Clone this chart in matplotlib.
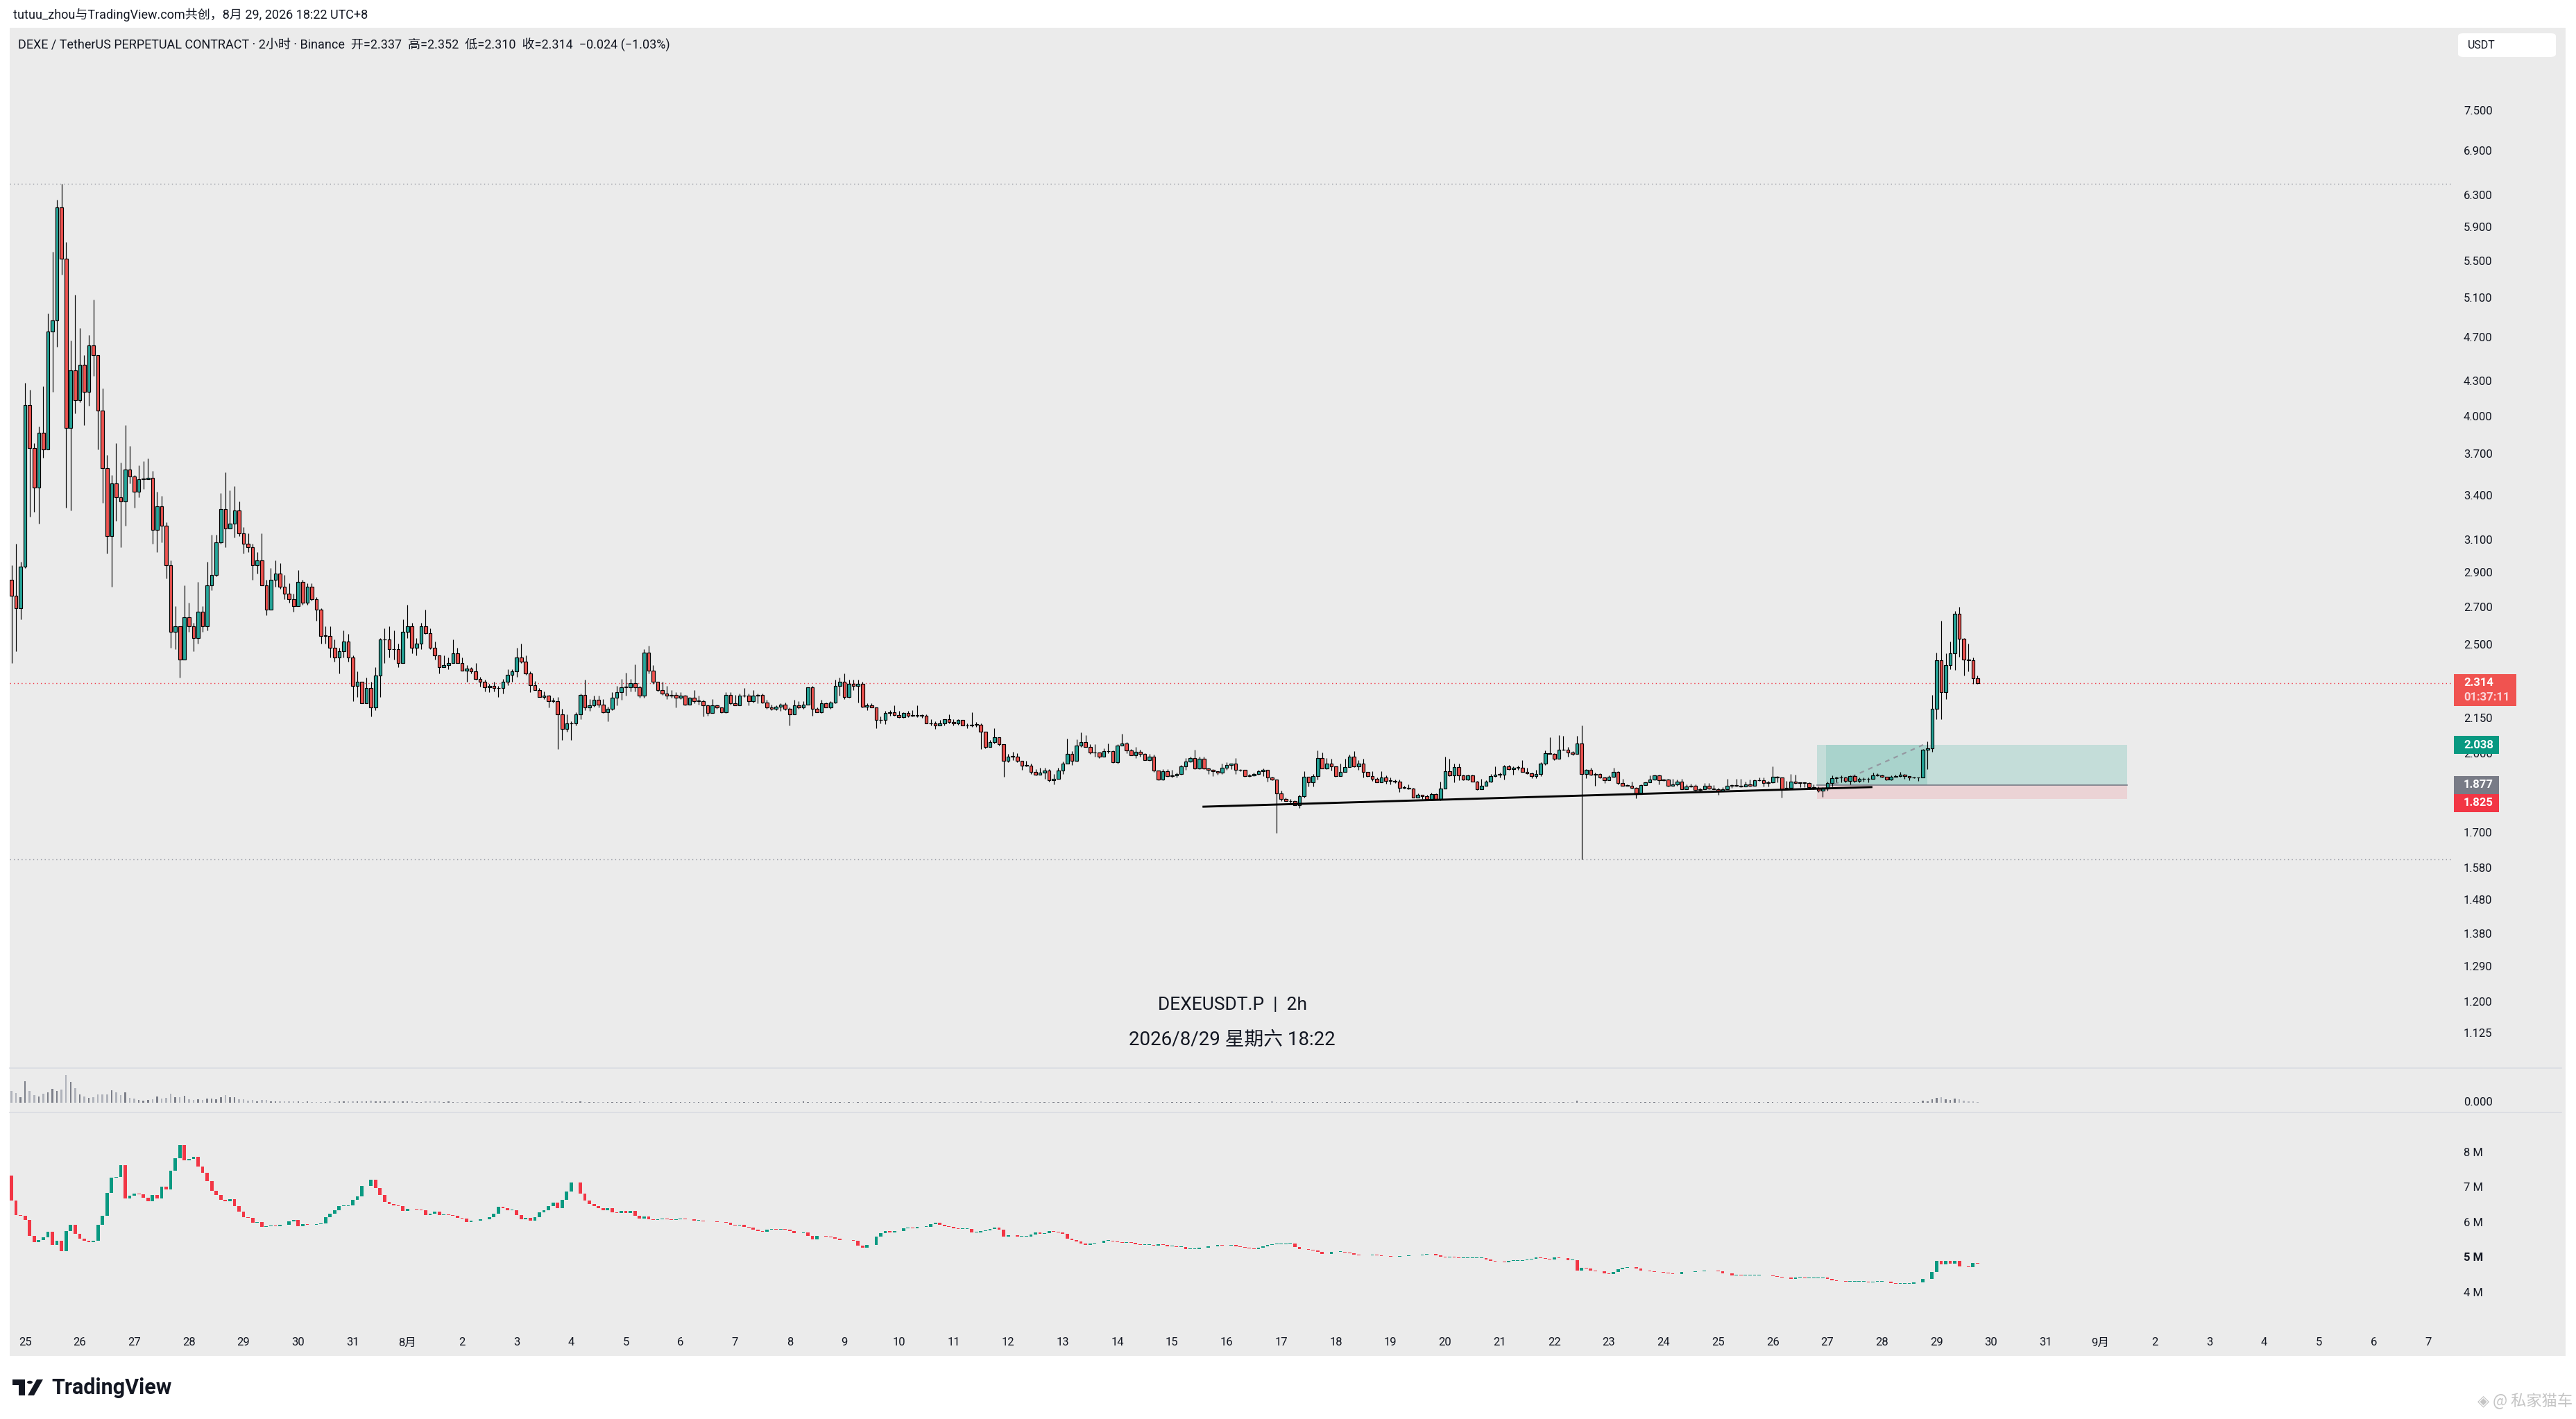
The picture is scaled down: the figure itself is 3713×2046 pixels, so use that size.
import numpy as np
import pandas as pd
import matplotlib
matplotlib.use("Agg")
import matplotlib.pyplot as plt
from matplotlib.patches import Rectangle, FancyBboxPatch, Circle, Polygon
from matplotlib.lines import Line2D

# ------------------------------------------------------------------ data
first_open = 2.86
close = [
    2.77, 2.70, 2.94, 4.10, 3.75, 3.46, 3.87, 3.74, 4.77, 4.88,
    6.15, 5.54, 3.91, 4.40, 4.14, 4.45, 4.21, 4.63, 4.54, 4.05,
    3.60, 3.13, 3.49, 3.39, 3.36, 3.59, 3.54, 3.43, 3.52, 3.52,
    3.53, 3.17, 3.33, 3.20, 2.95, 2.57, 2.60, 2.43, 2.65, 2.60,
    2.54, 2.68, 2.60, 2.83, 2.89, 3.09, 3.31, 3.18, 3.21, 3.30,
    3.15, 3.08, 3.06, 2.95, 2.98, 2.83, 2.69, 2.86, 2.90, 2.82,
    2.78, 2.75, 2.71, 2.85, 2.73, 2.82, 2.75, 2.69, 2.55, 2.55,
    2.49, 2.44, 2.47, 2.52, 2.44, 2.30, 2.32, 2.22, 2.29, 2.20,
    2.35, 2.53, 2.53, 2.48, 2.48, 2.41, 2.57, 2.60, 2.49, 2.51, 2.60,
    2.565, 2.49, 2.45, 2.39, 2.40, 2.41, 2.46, 2.41, 2.375, 2.385,
    2.37, 2.335, 2.32, 2.295, 2.30, 2.29, 2.29, 2.32, 2.355, 2.37,
    2.44, 2.42, 2.36, 2.305, 2.28, 2.25, 2.255, 2.23, 2.23, 2.17,
    2.105, 2.13, 2.13, 2.17, 2.26, 2.20, 2.21, 2.235, 2.215, 2.18,
    2.195, 2.245, 2.27, 2.295, 2.295, 2.315, 2.295, 2.255, 2.465, 2.375,
    2.32, 2.28, 2.265, 2.255, 2.26, 2.245, 2.255, 2.215, 2.245, 2.23,
    2.23, 2.21, 2.175, 2.21, 2.20, 2.18, 2.26, 2.22, 2.21, 2.255,
    2.255, 2.23, 2.255, 2.26, 2.225, 2.20, 2.195, 2.205, 2.215, 2.195,
    2.17, 2.21, 2.20, 2.215, 2.295, 2.195, 2.18, 2.22, 2.20, 2.225, 2.30,
    2.32, 2.25, 2.31, 2.30, 2.31, 2.205,
    2.21, 2.20, 2.145, 2.145, 2.176, 2.18, 2.167, 2.157, 2.176, 2.165,
    2.168, 2.165, 2.165, 2.13, 2.13, 2.12, 2.13, 2.15, 2.135, 2.13,
    2.145, 2.12, 2.122, 2.125, 2.125, 2.095, 2.03, 2.05, 2.07, 2.04,
    1.972, 1.99, 1.99, 1.972, 1.953, 1.953, 1.927, 1.918, 1.925, 1.934,
    1.895, 1.90, 1.934, 1.96, 2.00, 1.972, 2.035, 2.05, 2.03, 2.006,
    2.006, 1.99, 2.012, 2.012, 1.967, 2.035, 2.045, 2.015, 1.995, 2.01,
    2.00, 1.975, 1.99, 1.934, 1.897, 1.93, 1.912, 1.915, 1.92, 1.95,
    1.97, 1.985, 1.942, 1.98, 1.942, 1.937, 1.932, 1.926, 1.944, 1.957,
    1.96, 1.937, 1.935, 1.912,
    1.915, 1.92, 1.93, 1.935, 1.905, 1.897, 1.845, 1.825, 1.815, 1.815,
    1.80, 1.835, 1.91, 1.888, 1.912, 1.984, 1.942, 1.96, 1.95, 1.912,
    1.927, 1.947, 1.99, 1.95, 1.96, 1.927, 1.912, 1.90, 1.888, 1.905,
    1.893, 1.893, 1.89, 1.866, 1.867, 1.863, 1.83, 1.84, 1.835, 1.825,
    1.843, 1.823, 1.863, 1.93, 1.915, 1.947, 1.915, 1.897, 1.915, 1.89,
    1.86, 1.874, 1.89, 1.912, 1.917, 1.918, 1.95, 1.94, 1.945, 1.945,
    1.927, 1.922, 1.912, 1.92, 1.96, 2.003, 2.00, 1.98, 2.017, 2.017,
    2.006, 2.00, 2.045, 1.92, 1.937, 1.917, 1.92, 1.907, 1.896, 1.908,
    1.927, 1.885, 1.874, 1.875, 1.867, 1.843, 1.877, 1.888, 1.897, 1.915, 1.896, 1.897,
    1.874, 1.88, 1.89, 1.86, 1.87, 1.875, 1.858, 1.86, 1.874, 1.863,
    1.86, 1.855, 1.86, 1.875, 1.875, 1.874, 1.872, 1.88, 1.875, 1.895,
    1.895, 1.885, 1.888, 1.91, 1.905, 1.86, 1.867, 1.89, 1.885, 1.885,
    1.885, 1.868, 1.863, 1.855, 1.862, 1.885, 1.903, 1.905, 1.907, 1.892,
    1.912, 1.892, 1.90, 1.90, 1.902, 1.915, 1.915, 1.91, 1.898, 1.91,
    1.912, 1.918, 1.912, 1.905, 1.905, 1.905, 2.018, 2.025, 2.195, 2.425,
    2.273, 2.40, 2.46, 2.67, 2.535, 2.43, 2.425, 2.337, 2.314,
]
high = [
    2.95, 3.08, 2.97, 4.29, 4.23, 3.79, 3.92, 4.26, 4.95, 5.62,
    6.25, 6.46, 5.73, 4.68, 5.14, 4.80, 4.54, 4.73, 5.09, 4.54,
    4.24, 3.70, 3.55, 3.79, 3.64, 3.93, 3.77, 3.55, 3.62, 3.65,
    3.67, 3.58, 3.43, 3.40, 3.22, 2.98, 2.71, 2.60, 2.83, 2.73,
    2.62, 2.85, 2.71, 2.97, 3.14, 3.14, 3.42, 3.57, 3.44, 3.47,
    3.36, 3.19, 3.15, 3.08, 3.03, 3.15, 2.86, 2.93, 2.98, 2.96,
    2.89, 2.84, 2.78, 2.92, 2.86, 2.84, 2.84, 2.76, 2.70, 2.60,
    2.60, 2.53, 2.49, 2.58, 2.56, 2.45, 2.37, 2.32, 2.34, 2.32,
    2.39, 2.54, 2.59, 2.60, 2.58, 2.51, 2.64, 2.72, 2.62, 2.54, 2.62,
    2.69, 2.59, 2.52, 2.45, 2.45, 2.44, 2.53, 2.49, 2.44, 2.40,
    2.39, 2.41, 2.345, 2.33, 2.31, 2.32, 2.30, 2.335, 2.38, 2.38,
    2.49, 2.51, 2.45, 2.37, 2.325, 2.29, 2.275, 2.26, 2.245, 2.25,
    2.195, 2.17, 2.14, 2.18, 2.265, 2.33, 2.24, 2.255, 2.255, 2.24,
    2.205, 2.27, 2.30, 2.335, 2.365, 2.335, 2.405, 2.30, 2.48, 2.50,
    2.40, 2.32, 2.32, 2.30, 2.28, 2.27, 2.27, 2.26, 2.25, 2.28,
    2.255, 2.235, 2.215, 2.24, 2.215, 2.20, 2.27, 2.27, 2.26, 2.265,
    2.29, 2.265, 2.28, 2.265, 2.265, 2.235, 2.215, 2.21, 2.22, 2.225,
    2.20, 2.235, 2.23, 2.23, 2.295, 2.30, 2.20, 2.235, 2.225, 2.23, 2.33,
    2.34, 2.36, 2.33, 2.33, 2.33, 2.32,
    2.22, 2.22, 2.20, 2.16, 2.185, 2.19, 2.21, 2.185, 2.18, 2.185,
    2.19, 2.21, 2.17, 2.17, 2.15, 2.14, 2.145, 2.15, 2.17, 2.15,
    2.15, 2.145, 2.13, 2.18, 2.135, 2.13, 2.095, 2.06, 2.11, 2.07,
    2.04, 2.00, 2.01, 2.005, 1.972, 1.972, 1.96, 1.94, 1.945, 1.945,
    1.94, 1.92, 1.945, 1.97, 2.065, 2.012, 2.062, 2.09, 2.08, 2.04,
    2.04, 2.006, 2.025, 2.045, 2.015, 2.04, 2.085, 2.05, 2.02, 2.03,
    2.017, 2.003, 2.00, 1.997, 1.934, 1.94, 1.94, 1.935, 1.925, 1.955,
    1.985, 1.99, 2.017, 1.99, 1.99, 1.945, 1.94, 1.932, 1.96, 1.967,
    1.96, 1.985, 1.94, 1.935,
    1.92, 1.925, 1.935, 1.942, 1.935, 1.908, 1.897, 1.855, 1.83, 1.825,
    1.818, 1.84, 1.93, 1.91, 1.92, 2.015, 2.006, 1.985, 1.982, 1.95,
    1.96, 1.98, 1.997, 2.012, 1.975, 1.98, 1.927, 1.93, 1.907, 1.93,
    1.915, 1.905, 1.897, 1.897, 1.873, 1.88, 1.866, 1.845, 1.84, 1.84,
    1.847, 1.845, 1.89, 1.99, 1.982, 1.96, 1.96, 1.917, 1.917, 1.917,
    1.892, 1.90, 1.895, 1.92, 1.95, 1.925, 1.955, 1.955, 1.95, 1.952,
    1.975, 1.945, 1.925, 1.935, 1.967, 2.015, 2.07, 2.003, 2.08, 2.075,
    2.03, 2.012, 2.075, 2.12, 1.94, 1.945, 1.925, 1.922, 1.908, 1.915,
    1.945, 1.93, 1.902, 1.88, 1.89, 1.868, 1.88, 1.89, 1.915, 1.917, 1.917, 1.902,
    1.90, 1.90, 1.897, 1.90, 1.88, 1.883, 1.878, 1.866, 1.884, 1.884,
    1.876, 1.866, 1.868, 1.90, 1.88, 1.90, 1.90, 1.89, 1.897, 1.897,
    1.905, 1.905, 1.893, 1.95, 1.913, 1.905, 1.892, 1.92, 1.918, 1.888,
    1.888, 1.886, 1.88, 1.87, 1.868, 1.89, 1.915, 1.908, 1.915, 1.908,
    1.915, 1.916, 1.905, 1.907, 1.907, 1.924, 1.922, 1.917, 1.91, 1.915,
    1.917, 1.928, 1.92, 1.91, 1.91, 1.905, 2.022, 2.053, 2.26, 2.464,
    2.63, 2.46, 2.52, 2.685, 2.705, 2.54, 2.51, 2.44, 2.352,
]
low = [
    2.41, 2.47, 2.64, 2.93, 3.26, 3.29, 3.21, 3.68, 3.74, 4.21,
    4.62, 5.36, 3.32, 3.30, 4.03, 4.12, 3.93, 4.09, 4.35, 3.74,
    3.35, 3.02, 2.82, 3.23, 3.06, 3.20, 3.49, 3.32, 3.39, 3.45,
    3.52, 3.08, 3.03, 3.09, 2.87, 2.49, 2.48, 2.34, 2.43, 2.57,
    2.47, 2.51, 2.57, 2.58, 2.80, 2.88, 3.08, 3.06, 3.18, 3.12,
    3.13, 3.02, 3.03, 2.86, 2.90, 2.83, 2.66, 2.69, 2.82, 2.81,
    2.75, 2.73, 2.68, 2.71, 2.72, 2.72, 2.74, 2.63, 2.51, 2.51,
    2.44, 2.42, 2.36, 2.44, 2.42, 2.23, 2.25, 2.22, 2.22, 2.16,
    2.19, 2.25, 2.41, 2.44, 2.43, 2.39, 2.41, 2.54, 2.46, 2.45, 2.48,
    2.56, 2.48, 2.43, 2.36, 2.39, 2.38, 2.41, 2.41, 2.375, 2.32,
    2.36, 2.33, 2.297, 2.275, 2.27, 2.275, 2.25, 2.265, 2.305, 2.32,
    2.345, 2.41, 2.355, 2.27, 2.28, 2.25, 2.24, 2.20, 2.225, 2.02,
    2.06, 2.095, 2.06, 2.12, 2.15, 2.19, 2.185, 2.205, 2.20, 2.175,
    2.14, 2.19, 2.21, 2.235, 2.255, 2.275, 2.275, 2.245, 2.245, 2.36,
    2.31, 2.275, 2.26, 2.24, 2.245, 2.20, 2.24, 2.21, 2.213, 2.22,
    2.215, 2.16, 2.165, 2.175, 2.195, 2.175, 2.175, 2.215, 2.21, 2.21,
    2.25, 2.21, 2.225, 2.22, 2.22, 2.195, 2.19, 2.19, 2.185, 2.19,
    2.12, 2.17, 2.195, 2.195, 2.215, 2.165, 2.18, 2.175, 2.20, 2.195, 2.22,
    2.255, 2.24, 2.245, 2.28, 2.225, 2.20,
    2.19, 2.20, 2.11, 2.13, 2.126, 2.163, 2.163, 2.155, 2.155, 2.157,
    2.16, 2.157, 2.155, 2.13, 2.12, 2.105, 2.12, 2.12, 2.13, 2.12,
    2.125, 2.12, 2.11, 2.115, 2.115, 2.02, 2.025, 2.03, 2.045, 2.035,
    1.91, 1.966, 1.975, 1.967, 1.936, 1.95, 1.92, 1.915, 1.918, 1.90,
    1.89, 1.88, 1.90, 1.92, 1.96, 1.955, 1.97, 2.03, 2.03, 2.00,
    1.99, 1.984, 1.99, 2.003, 1.965, 1.96, 2.035, 2.005, 1.995, 1.985,
    1.99, 1.975, 1.972, 1.928, 1.895, 1.895, 1.908, 1.906, 1.906, 1.917,
    1.937, 1.967, 1.94, 1.94, 1.94, 1.92, 1.912, 1.918, 1.92, 1.937,
    1.94, 1.92, 1.93, 1.91,
    1.91, 1.912, 1.916, 1.912, 1.89, 1.895, 1.70, 1.815, 1.815, 1.808,
    1.80, 1.79, 1.83, 1.872, 1.872, 1.897, 1.942, 1.94, 1.934, 1.91,
    1.912, 1.927, 1.95, 1.947, 1.937, 1.905, 1.91, 1.893, 1.887, 1.887,
    1.883, 1.88, 1.885, 1.85, 1.862, 1.86, 1.828, 1.829, 1.823, 1.823,
    1.823, 1.82, 1.818, 1.863, 1.912, 1.888, 1.895, 1.896, 1.895, 1.89,
    1.857, 1.86, 1.874, 1.887, 1.91, 1.907, 1.897, 1.937, 1.918, 1.937,
    1.927, 1.92, 1.903, 1.903, 1.912, 1.955, 2.00, 1.975, 1.98, 2.014,
    1.99, 1.996, 2.003, 1.61, 1.903, 1.915, 1.873, 1.903, 1.885, 1.895,
    1.907, 1.878, 1.873, 1.873, 1.864, 1.826, 1.842, 1.877, 1.887, 1.896, 1.88, 1.892,
    1.872, 1.875, 1.875, 1.86, 1.86, 1.868, 1.85, 1.85, 1.86, 1.86,
    1.86, 1.84, 1.855, 1.86, 1.866, 1.87, 1.868, 1.87, 1.872, 1.874,
    1.892, 1.872, 1.872, 1.885, 1.888, 1.83, 1.86, 1.866, 1.882, 1.868,
    1.868, 1.864, 1.86, 1.85, 1.832, 1.856, 1.872, 1.888, 1.888, 1.888,
    1.878, 1.888, 1.888, 1.89, 1.888, 1.90, 1.912, 1.905, 1.896, 1.896,
    1.908, 1.91, 1.90, 1.895, 1.903, 1.893, 1.905, 1.94, 2.01, 2.15,
    2.15, 2.24, 2.38, 2.377, 2.444, 2.35, 2.37, 2.31, 2.310,
]
volume = [
    50, 41, 23, 92, 50, 32, 26, 38, 44, 59,
    50, 56, 119, 89, 62, 35, 26, 20, 23, 35,
    35, 35, 53, 44, 32, 44, 20, 17, 11, 8,
    11, 14, 26, 17, 20, 38, 23, 23, 29, 14,
    11, 14, 11, 17, 17, 14, 23, 32, 23, 23,
    14, 14, 8, 11, 5, 11, 11, 6,
    6, 6, 5, 6, 5, 6, 4, 7, 3, 3, 3, 4,
    6, 4, 6, 5, 6, 5, 7, 6, 5, 8,
    6, 7, 6, 7, 6, 6, 5, 5, 5, 3,
    3, 7, 5, 5, 5, 4, 5, 4, 4, 4,
    4, 3, 4, 4, 3, 4, 4, 4, 4, 4,
    3, 4, 4, 4, 4, 4, 4, 4, 4, 4, 3,
    5, 4, 3, 4, 5, 4, 3, 3, 3, 4, 3, 4,
    3, 3, 3, 4, 3, 6, 4, 3, 3, 3, 3, 3,
    3, 3, 3, 3, 3, 3, 3, 3, 3, 3, 3, 3,
    4, 3, 3, 3, 3, 3, 3, 3, 3, 3, 3, 3,
    3, 4, 3, 3, 3, 5, 4, 3, 3, 3, 3, 4,
    3, 3, 3, 3, 3, 4, 3, 3, 4, 3, 3, 3,
    3, 3, 3, 3, 3, 3, 3, 3, 3, 3, 3, 3,
    3, 3, 3, 3, 3, 3, 3, 4, 5, 3, 3, 3,
    5, 3, 3, 3, 3, 3, 3, 3, 3, 3, 4, 3,
    3, 3, 4, 3, 4, 3, 3, 3, 3, 3, 3, 3,
    3, 3, 3, 3, 3, 3, 3, 3, 3, 4, 3, 3,
    3, 3, 3, 3, 3, 3, 3, 3, 3, 3, 3, 3,
    3, 3, 3, 3, 3, 3, 3, 3, 3, 3, 3, 3,
    5, 3, 3, 3, 3, 3, 4, 3, 3, 4, 3, 3,
    3, 3, 3, 3, 3, 3, 3, 3, 3, 3, 3, 3,
    3, 3, 3, 3, 3, 3, 3, 3, 3, 3, 3, 3,
    4, 4, 3, 3, 3, 3, 3, 3, 3, 3, 3, 3,
    3, 3, 3, 3, 3, 3, 3, 3, 4, 4, 3, 3,
    3, 3, 3, 3, 3, 3, 4, 8, 3, 3, 3, 3,
    3, 3, 3, 3, 3, 3, 3, 3, 3, 3, 3, 3,
    3, 3, 3, 3, 3, 3, 3, 3, 3, 3, 3, 3,
    3, 3, 3, 3, 3, 3, 3, 3, 3, 3, 3, 3,
    3, 4, 3, 4, 3, 3, 3, 3, 3, 3, 3, 3,
    3, 3, 3, 3, 3, 3, 3, 3, 3, 3, 3, 3,
    3, 3, 3, 3, 3, 3, 3, 3, 3, 3, 3, 8,
    6, 14, 20, 24, 14, 11, 18, 15, 9, 7, 6, 4,
]
oi_first_open = 7.36
oi_close = [
    6.65, 6.22, 6.20, 6.09, 5.64, 5.45, 5.51, 5.59, 5.75, 5.38,
    5.49, 5.20, 5.77, 5.95, 5.69, 5.56, 5.50, 5.45, 5.49, 5.95,
    6.20, 6.86, 7.29, 7.32, 7.65, 6.70, 6.78, 6.85, 6.83, 6.73,
    6.63, 6.80, 6.71, 7.04, 6.97, 7.49, 7.85, 8.23, 7.79, 7.83,
    7.90, 7.61, 7.44, 7.20, 6.93, 6.80, 6.66, 6.62, 6.68, 6.48,
    6.32, 6.16, 6.15, 6.00, 6.02, 5.90, 5.91, 5.93, 5.92, 5.96,
    5.95, 6.05, 6.08, 5.92, 5.97, 5.96, 5.95, 5.98, 5.99, 6.17,
    6.27, 6.37, 6.49, 6.49, 6.51, 6.66, 6.76, 7.05, 7.06, 7.24,
    7.00, 6.81, 6.61, 6.55, 6.51, 6.48, 6.35, 6.40, 6.41, 6.39,
    6.37, 6.22, 6.27, 6.32, 6.23, 6.24, 6.23, 6.20, 6.15, 6.12,
    6.02, 6.07, 6.06, 6.10, 6.10, 6.17, 6.27, 6.47, 6.43, 6.37,
    6.37, 6.22, 6.10, 6.15, 6.07, 6.17, 6.30, 6.37, 6.49, 6.58,
    6.43, 6.66, 6.91, 7.16, 7.15, 6.85, 6.65, 6.55, 6.49, 6.43,
    6.37, 6.43, 6.30, 6.29, 6.35, 6.28, 6.35, 6.20, 6.12, 6.19,
    6.10, 6.08, 6.11, 6.12, 6.10, 6.08, 6.11, 6.12, 6.10, 6.10,
    6.07, 6.07, 6.05, 6.04, 6.04, 6.03, 6.02, 6.00, 5.95, 5.94,
    5.95, 5.90, 5.88, 5.81, 5.77, 5.76, 5.81, 5.84, 5.81, 5.83,
    5.82, 5.77, 5.71, 5.71, 5.74, 5.64, 5.54, 5.63, 5.63, 5.62,
    5.59, 5.56, 5.51, 5.51, 5.52, 5.49, 5.36, 5.30, 5.37, 5.38,
    5.61, 5.71, 5.77, 5.74, 5.77, 5.78, 5.85, 5.88, 5.85, 5.89,
    5.90, 5.90, 5.97, 6.00, 5.95, 5.92, 5.90, 5.86, 5.84, 5.84,
    5.84, 5.74, 5.74, 5.77, 5.80, 5.84, 5.87, 5.81, 5.62,
    5.66, 5.65, 5.62, 5.62, 5.62, 5.67, 5.73, 5.69, 5.72, 5.77,
    5.76, 5.74, 5.70, 5.56, 5.51, 5.48, 5.41, 5.38, 5.41, 5.43,
    5.44, 5.50, 5.50, 5.48, 5.45, 5.43, 5.45, 5.43, 5.39, 5.38,
    5.38, 5.38, 5.36, 5.39, 5.38, 5.34, 5.34, 5.32, 5.32, 5.26,
    5.26, 5.26, 5.29, 5.30, 5.33, 5.34, 5.38, 5.36, 5.35, 5.37,
    5.34, 5.31, 5.30, 5.28, 5.26, 5.29, 5.34, 5.38, 5.40, 5.40,
    5.40, 5.42, 5.42, 5.32, 5.25, 5.26, 5.24, 5.22, 5.17, 5.11,
    5.12, 5.17, 5.18, 5.18, 5.16, 5.13, 5.09, 5.07, 5.07, 5.07,
    5.09, 5.07, 5.05, 5.05, 5.04, 5.03, 5.05, 5.05, 5.07, 5.07,
    5.07, 5.09, 5.11, 5.11, 5.08, 5.03, 5.01, 5.03, 5.01, 5.00,
    5.00, 5.00, 5.00, 5.00, 5.00, 4.97, 4.93, 4.91, 4.90, 4.89, 4.93,
    4.93, 4.93, 4.95, 4.97, 4.98, 5.02, 5.00, 4.98, 4.97, 5.01,
    5.00, 4.99, 4.95, 4.95, 4.65, 4.72, 4.70, 4.65, 4.63, 4.62,
    4.57, 4.55, 4.60, 4.68, 4.72, 4.74, 4.74, 4.70, 4.65, 4.64,
    4.62, 4.61, 4.60, 4.58, 4.57, 4.55, 4.54, 4.60, 4.60, 4.60,
    4.62, 4.62, 4.64, 4.64, 4.64, 4.62, 4.57, 4.56, 4.50, 4.53,
    4.51, 4.51, 4.51, 4.51, 4.51, 4.50, 4.50, 4.48, 4.47, 4.44, 4.44,
    4.41, 4.45, 4.45, 4.43, 4.43, 4.43, 4.43, 4.45, 4.41, 4.37,
    4.35, 4.34, 4.33, 4.33, 4.33, 4.33, 4.33, 4.31, 4.33, 4.33, 4.33,
    4.32, 4.29, 4.27, 4.27, 4.27, 4.27, 4.30, 4.30, 4.41, 4.40,
    4.60, 4.92, 4.82, 4.92, 4.85, 4.92, 4.77, 4.76, 4.75, 4.86,
    4.85,
]
price_ticks = [7.5, 6.9, 6.3, 5.9, 5.5, 5.1, 4.7, 4.3, 4.0, 3.7, 3.4, 3.1,
               2.9, 2.7, 2.5, 2.15, 2.0, 1.7, 1.58, 1.48, 1.38, 1.29, 1.2, 1.125]
oi_ticks = [8, 7, 6, 5, 4]
first_bar_time = "2026-07-24 18:00"
date_first, date_last = "2026-07-25", "2026-09-07"
entry_price, target_price, stop_price = 1.877, 2.038, 1.825
position_bars = (396.7, 464.9)          # left / right edge of long-position tool
position_hit_bar = 421.0                # bar where target was reached
trend_bars = (261.7, 408.9)
trend_prices = (1.795, 1.869)
path_bars = (398.7, 420.6)
path_prices = (1.865, 2.043)

# ------------------------------------------------------------------ style
W, H = 3713, 2046
BG = "#ebebeb"
TXT = "#131722"
UP, DN = "#26a69a", "#ef5350"
OI_UP, OI_DN = "#089981", "#f23645"
plt.rcParams["font.family"] = ["Roboto", "Noto Sans CJK SC", "DejaVu Sans"]

fig = plt.figure(figsize=(W / 100, H / 100), dpi=100)
fig.patch.set_facecolor("white")


def fy(y):
    return 1 - y / H


def add_ax(x0, y0, x1, y1):
    a = fig.add_axes([x0 / W, 1 - y1 / H, (x1 - x0) / W, (y1 - y0) / H])
    a.set_axis_off()
    a.patch.set_alpha(0)
    return a


fig.add_artist(Rectangle((14 / W, fy(1955)), (3698 - 14) / W, (1955 - 40) / H,
                         transform=fig.transFigure, facecolor=BG,
                         edgecolor="none", zorder=0))

n = min(len(close), len(high), len(low))
c = np.array(close[:n])
h = np.array(high[:n])
l = np.array(low[:n])
o = np.concatenate([[first_open], c[:-1]])
k = np.arange(n)

XL = (-2.5 / 6.56, (3536 - 16.5) / 6.56)

# ---------------- price pane
ax = add_ax(14, 40, 3536, 1540)
ax.set_yscale("log")
ax.set_xlim(*XL)
ax.set_ylim(1.049, 8.90)

up = c >= o
cols = np.where(up, UP, DN)
ax.vlines(k, l, h, color="black", lw=0.85, zorder=3)
body_lo = np.minimum(o, c)
body_h = np.maximum(np.abs(c - o), 0.0015)
ax.bar(k, body_h, bottom=body_lo, width=0.7, color=cols, edgecolor="black",
       linewidth=0.85, zorder=4)

dot = (0, (1, 3))
ax.axhline(h.max(), color="#9598a1", lw=1, ls=dot, zorder=2)
ax.axhline(l.min(), color="#9598a1", lw=1, ls=dot, zorder=2)
ax.axhline(c[-1], color="#f23645", lw=1, ls=dot, zorder=2)

# long position tool
x0p, x1p = position_bars
ax.add_patch(Rectangle((x0p, entry_price), x1p - x0p, target_price - entry_price,
                       facecolor=(8 / 255, 153 / 255, 129 / 255, 0.17),
                       edgecolor="none", zorder=1))
ax.add_patch(Rectangle((x0p + 2, entry_price), position_hit_bar - x0p - 2,
                       target_price - entry_price,
                       facecolor=(8 / 255, 153 / 255, 129 / 255, 0.14),
                       edgecolor="none", zorder=1))
ax.add_patch(Rectangle((x0p, stop_price), x1p - x0p, entry_price - stop_price,
                       facecolor=(242 / 255, 54 / 255, 69 / 255, 0.13),
                       edgecolor="none", zorder=1))
ax.plot([x0p, x1p], [entry_price, entry_price], color="#787b86", lw=1.2, zorder=1.5)
ax.plot(path_bars, path_prices, color="#9598a1", lw=1.6, ls=(0, (3, 3)), zorder=2)
ax.plot(trend_bars, trend_prices, color="black", lw=2.1, zorder=5,
        solid_capstyle="butt")

# ---------------- volume pane
axv = add_ax(14, 1540, 3536, 1604)
axv.set_xlim(*XL)
axv.set_ylim(-42, 150)
vol = np.array(volume[:n])
axv.bar(k[:len(vol)], vol, width=0.38,
        color=np.where(up[:len(vol)], "#7c7f89", "#b0b3bb"), zorder=2)

# ---------------- open-interest pane
axo = add_ax(14, 1604, 3536, 1955)
axo.set_xlim(*XL)
axo.set_ylim(2.208, 9.158)
oc = np.array(oi_close[:n])
oo = np.concatenate([[oi_first_open], oc[:-1]])
oup = oc >= oo
axo.bar(k[:len(oc)], np.maximum(np.abs(oc - oo), 0.01), bottom=np.minimum(oo, oc),
        width=0.72, color=np.where(oup, OI_UP, OI_DN), edgecolor="none", zorder=2)

# separators
for ys in (1540, 1604):
    fig.add_artist(Line2D([14 / W, 3692 / W], [fy(ys), fy(ys)], color="#dadce2",
                          lw=1.2, transform=fig.transFigure, zorder=1))


def y_of(a, val):
    return a.transData.transform((0, val))[1] / H


# ---------------- price scale
for p in price_ticks:
    fig.text(3551 / W, y_of(ax, p), f"{p:.3f}", ha="left", va="center",
             fontsize=12, color=TXT, zorder=4)
fig.text(3551 / W, y_of(axv, 0), "0.000", ha="left", va="center",
         fontsize=12, color=TXT)
for v in oi_ticks:
    fig.text(3551 / W, y_of(axo, v), f"{v} M", ha="left", va="center",
             fontsize=12, color=TXT, fontweight="bold" if v == 5 else "normal")


def price_box(val, text, color, x1=3602, h_px=26, y_shift=0, sub=None):
    yc = (1 - y_of(ax, val)) * H + y_shift
    hh = h_px if sub is None else 46
    top = yc - 13
    fig.add_artist(Rectangle((3537 / W, fy(top + hh)), (x1 - 3537) / W, hh / H,
                             transform=fig.transFigure, facecolor=color,
                             edgecolor="none", zorder=5))
    fig.text(3551 / W, fy(yc), text, ha="left", va="center", fontsize=12,
             color="white", zorder=6, fontweight="bold")
    if sub:
        fig.text(3551 / W, fy(yc + 21), sub, ha="left", va="center",
                 fontsize=12, color="#fbd7da", zorder=6, fontweight="bold")


price_box(c[-1], f"{c[-1]:.3f}", "#f05350", x1=3627, sub="01:37:11")
price_box(target_price, f"{target_price:.3f}", "#089981")
price_box(entry_price, f"{entry_price:.3f}", "#787b86")
price_box(stop_price, f"{stop_price:.3f}", "#f23645", y_shift=6)

# USDT box
fig.add_artist(FancyBboxPatch((3543 / W, fy(82)), (3684 - 3543) / W, 34 / H,
                              boxstyle="round,pad=0,rounding_size=0.002",
                              transform=fig.transFigure, facecolor="white",
                              edgecolor="none", zorder=3))
fig.text(3557 / W, fy(65), "USDT", ha="left", va="center", fontsize=11.5,
         color=TXT, zorder=4)

# ---------------- time axis
t0 = pd.Timestamp(first_bar_time)
days = pd.date_range(date_first, date_last, freq="D")
for d in days:
    xb = (d - t0) / pd.Timedelta(hours=2)
    lab = f"{d.month}月" if d.day == 1 else str(d.day)
    xf = axo.transData.transform((xb, 0))[0] / W
    fig.text(xf, fy(1936), lab, ha="center", va="center", fontsize=12, color=TXT)

# ---------------- header texts
fig.text(19 / W, fy(21), "tutuu_zhou与TradingView.com共创，8月 29, 2026 18:22 UTC+8",
         ha="left", va="center", fontsize=13, color=TXT)
fig.text(26 / W, fy(64),
         "DEXE / TetherUS PERPETUAL CONTRACT · 2小时 · Binance  开=2.337  高=2.352  "
         "低=2.310  收=2.314  −0.024 (−1.03%)",
         ha="left", va="center", fontsize=13, color=TXT)

# centre watermark
fig.text(1776 / W, fy(1449), "DEXEUSDT.P  |  2h", ha="center", va="center",
         fontsize=19, color=TXT)
fig.text(1776 / W, fy(1499), "2026/8/29 星期六 18:22", ha="center", va="center",
         fontsize=20, color=TXT)

# TradingView logo
logo = TXT
fig.add_artist(Rectangle((18 / W, fy(1997)), 18 / W, 8 / H, transform=fig.transFigure,
                         facecolor=logo, edgecolor="none"))
fig.add_artist(Rectangle((27 / W, fy(2012)), 9 / W, 23 / H, transform=fig.transFigure,
                         facecolor=logo, edgecolor="none"))
fig.add_artist(Circle((43 / W, fy(1993)), 4 / W, transform=fig.transFigure,
                      facecolor=logo, edgecolor="none"))
fig.add_artist(Polygon([(40 / W, fy(2012)), (49 / W, fy(2012)), (62 / W, fy(1989)),
                        (53 / W, fy(1989))], closed=True, transform=fig.transFigure,
                       facecolor=logo, edgecolor="none"))
fig.text(74 / W, fy(2001), "TradingView", ha="left", va="center", fontsize=22,
         fontweight="semibold", color=TXT)

# bottom-right watermark
fig.text(3708 / W, fy(2020), "◈ @ 私家猫车", ha="right", va="center", fontsize=16,
         color="#c4c4c4", family=["Noto Sans CJK SC", "DejaVu Sans"])

fig.savefig("out.png", dpi=100, facecolor="white")
